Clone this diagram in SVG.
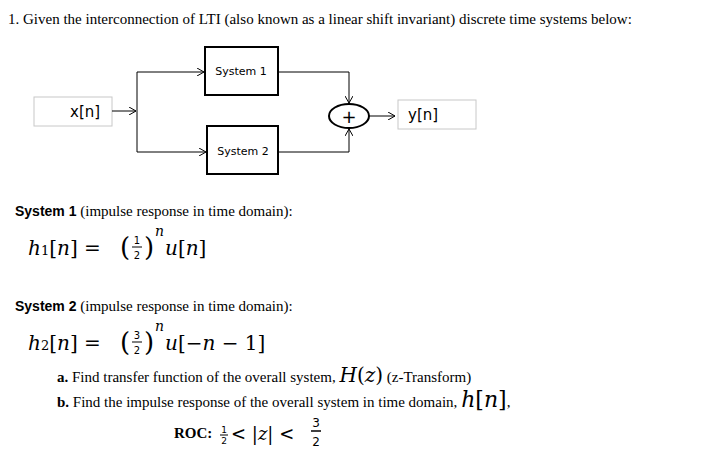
<svg xmlns="http://www.w3.org/2000/svg" width="724" height="459" viewBox="0 0 724 459">
<style>
.t{font-family:"Liberation Serif",serif;font-size:15px;fill:#000}
.m{font-family:"DejaVu Serif","Liberation Serif",serif;font-style:italic;fill:#000}
.r{font-family:"DejaVu Serif","Liberation Serif",serif;fill:#000}
.s{font-family:"DejaVu Sans","Liberation Sans",sans-serif;fill:#000}
.b{fill:#fff;stroke:#000;stroke-width:2}
.g{fill:#fff;stroke:#c8c8c8;stroke-width:1}
.c{fill:none;stroke:#000;stroke-width:1}
</style>
<defs><marker id="a" markerWidth="8" markerHeight="8" refX="7" refY="4" orient="auto" markerUnits="userSpaceOnUse"><path d="M0,0 L7,4 L0,8" fill="none" stroke="#000"/></marker></defs>
<rect width="724" height="459" fill="#fff"/>
<text class="t" x="8" y="24">1.  Given the interconnection of LTI (also known as a linear shift invariant) discrete time systems below:</text>
<g id="xn"><rect class="g" x="34" y="97" width="78" height="29"/><text class="s" x="70" y="117" font-size="15">x[n]</text></g>
<g id="sys1"><rect class="b" x="205" y="47" width="73" height="48"/><text class="s" x="241" y="75" font-size="11" text-anchor="middle">System 1</text></g>
<g id="sys2"><rect class="b" x="207" y="126" width="71" height="48"/><text class="s" x="243" y="155" font-size="11" text-anchor="middle">System 2</text></g>
<g id="sum"><ellipse class="b" cx="349" cy="116" rx="20" ry="12" stroke-width="1.5"/><text class="s" x="349" y="123" font-size="18" text-anchor="middle">+</text></g>
<g id="yn"><rect class="g" x="398" y="100" width="78" height="29"/><text class="s" x="408" y="120" font-size="15">y[n]</text></g>
<g id="connectors" class="c">
<path d="M112,111 H136" marker-end="url(#a)"/>
<path d="M137,72 V152"/>
<path d="M137,72 H204" marker-end="url(#a)"/>
<path d="M137,152 H206" marker-end="url(#a)"/>
<path d="M278,72 H349 V103" marker-end="url(#a)"/>
<path d="M278,152 H349 V129" marker-end="url(#a)"/>
<path d="M369,116 H395" marker-end="url(#a)"/>
</g>
<text class="t" x="15" y="216"><tspan font-family="Liberation Sans,sans-serif" font-weight="bold" font-size="14">System 1</tspan> (impulse response in time domain):</text>
<text x="28" y="255" font-size="20"><tspan class="m">h</tspan><tspan class="r" font-size="13">1</tspan><tspan class="r">[</tspan><tspan class="m">n</tspan><tspan class="r">] =</tspan></text>
<text class="r" x="120" y="256" font-size="26">(</text><text class="r" x="144" y="256" font-size="26">)</text>
<text class="s" x="137" y="244" font-size="10" text-anchor="middle">1</text><line x1="132" y1="247" x2="142" y2="247" stroke="#000"/><text class="s" x="137" y="259" font-size="10" text-anchor="middle">2</text>
<text class="m" x="155" y="236" font-size="14">n</text>
<text x="165" y="255" font-size="20"><tspan class="m">u</tspan><tspan class="r">[</tspan><tspan class="m">n</tspan><tspan class="r">]</tspan></text>
<text class="t" x="15" y="311"><tspan font-family="Liberation Sans,sans-serif" font-weight="bold" font-size="14">System 2</tspan> (impulse response in time domain):</text>
<text x="28" y="350" font-size="20"><tspan class="m">h</tspan><tspan class="r" font-size="13">2</tspan><tspan class="r">[</tspan><tspan class="m">n</tspan><tspan class="r">] =</tspan></text>
<text class="r" x="120" y="351" font-size="26">(</text><text class="r" x="144" y="351" font-size="26">)</text>
<text class="s" x="137" y="339" font-size="10" text-anchor="middle">3</text><line x1="132" y1="342" x2="142" y2="342" stroke="#000"/><text class="s" x="137" y="354" font-size="10" text-anchor="middle">2</text>
<text class="m" x="155" y="331" font-size="14">n</text>
<text x="165" y="350" font-size="20"><tspan class="m">u</tspan><tspan class="r">[−</tspan><tspan class="m">n</tspan><tspan class="r"> − 1]</tspan></text>
<text class="t" x="57" y="382"><tspan font-weight="bold">a.</tspan>  Find transfer function of the overall system, <tspan class="m" font-size="20">H</tspan><tspan class="r" font-size="20">(</tspan><tspan class="m" font-size="20">z</tspan><tspan class="r" font-size="20">)</tspan> (z-Transform)</text>
<text class="t" x="57" y="407"><tspan font-weight="bold">b.</tspan>  Find the impulse response of the overall system in time domain, <tspan class="m" font-size="22">h</tspan><tspan class="r" font-size="22">[</tspan><tspan class="m" font-size="22">n</tspan><tspan class="r" font-size="22">]</tspan>,</text>
<text class="t" x="174" y="438" font-weight="bold">ROC:</text>
<text class="s" x="224" y="433" font-size="9" text-anchor="middle">1</text><line x1="220" y1="435" x2="228" y2="435" stroke="#000"/><text class="s" x="224" y="444" font-size="9" text-anchor="middle">2</text>
<text class="r" x="231" y="440" font-size="18">&lt; |<tspan class="m">z</tspan>| &lt;</text>
<text class="s" x="316" y="427" font-size="12" text-anchor="middle">3</text><line x1="311" y1="431" x2="321" y2="431" stroke="#000" stroke-width="1.5"/><text class="s" x="316" y="446" font-size="12" text-anchor="middle">2</text>
</svg>
